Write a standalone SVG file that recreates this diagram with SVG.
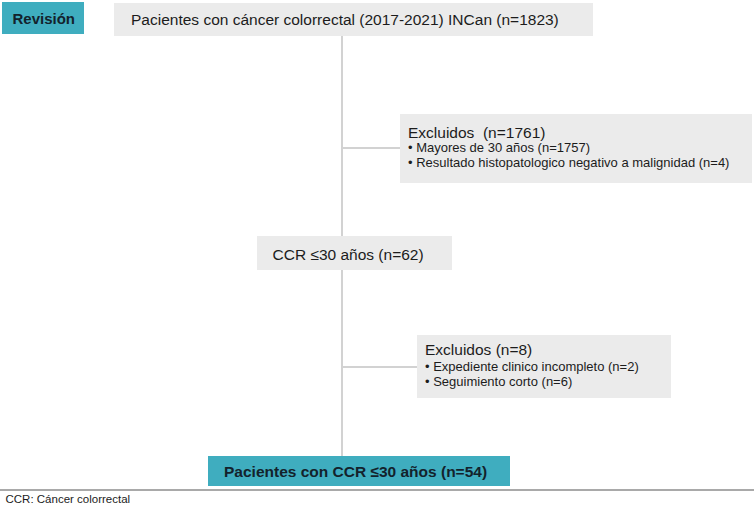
<svg xmlns="http://www.w3.org/2000/svg" width="754" height="507" viewBox="0 0 754 507">
<style>
.teal{fill:#3fadbf}
.gray{fill:#ebebeb}
.conn{stroke:#d2d2d2;stroke-width:2;fill:none}
text{font-family:"Liberation Sans",Arial,sans-serif;fill:#1c1c1c}
.h{font-size:15.5px}
.b{font-size:13px}
.bold{font-weight:bold;fill:#13222c}
</style>
<rect width="754" height="507" fill="#ffffff"/>
<g id="connectors">
<line class="conn" x1="342" y1="36" x2="342" y2="456"/>
<line class="conn" x1="342" y1="148" x2="400" y2="148"/>
<line class="conn" x1="342" y1="367" x2="417" y2="367"/>
</g>
<g id="revision">
<rect class="teal" x="2" y="2" width="82" height="32"/>
<text class="bold" x="12.5" y="24" font-size="15">Revisión</text>
</g>
<g id="pacientes">
<rect class="gray" x="114" y="3" width="479" height="33"/>
<text class="h" x="131" y="25" font-size="15.6">Pacientes con cáncer colorrectal (2017-2021) INCan (n=1823)</text>
</g>
<g id="excluidos1">
<rect class="gray" x="400" y="114" width="352" height="69"/>
<text class="h" x="408" y="137.5" xml:space="preserve">Excluidos  (n=1761)</text>
<text class="b" x="408" y="152">• Mayores de 30 años (n=1757)</text>
<text class="b" x="408" y="167">• Resultado histopatologico negativo a malignidad (n=4)</text>
</g>
<g id="ccr62">
<rect class="gray" x="257" y="236" width="195" height="34"/>
<text class="h" x="272.5" y="260">CCR ≤30 años (n=62)</text>
</g>
<g id="excluidos2">
<rect class="gray" x="417" y="335" width="254" height="63"/>
<text class="h" x="425" y="355">Excluidos (n=8)</text>
<text class="b" x="425" y="371">• Expediente clinico incompleto (n=2)</text>
<text class="b" x="425" y="386">• Seguimiento corto (n=6)</text>
</g>
<g id="final">
<rect class="teal" x="208" y="456" width="302" height="30"/>
<text class="h bold" x="224" y="477">Pacientes con CCR ≤30 años (n=54)</text>
</g>
<line x1="0" y1="490" x2="754" y2="490" stroke="#8c8c8c" stroke-width="1.5"/>
<text x="5.5" y="502.5" font-size="11.5">CCR: Cáncer colorrectal</text>
</svg>
